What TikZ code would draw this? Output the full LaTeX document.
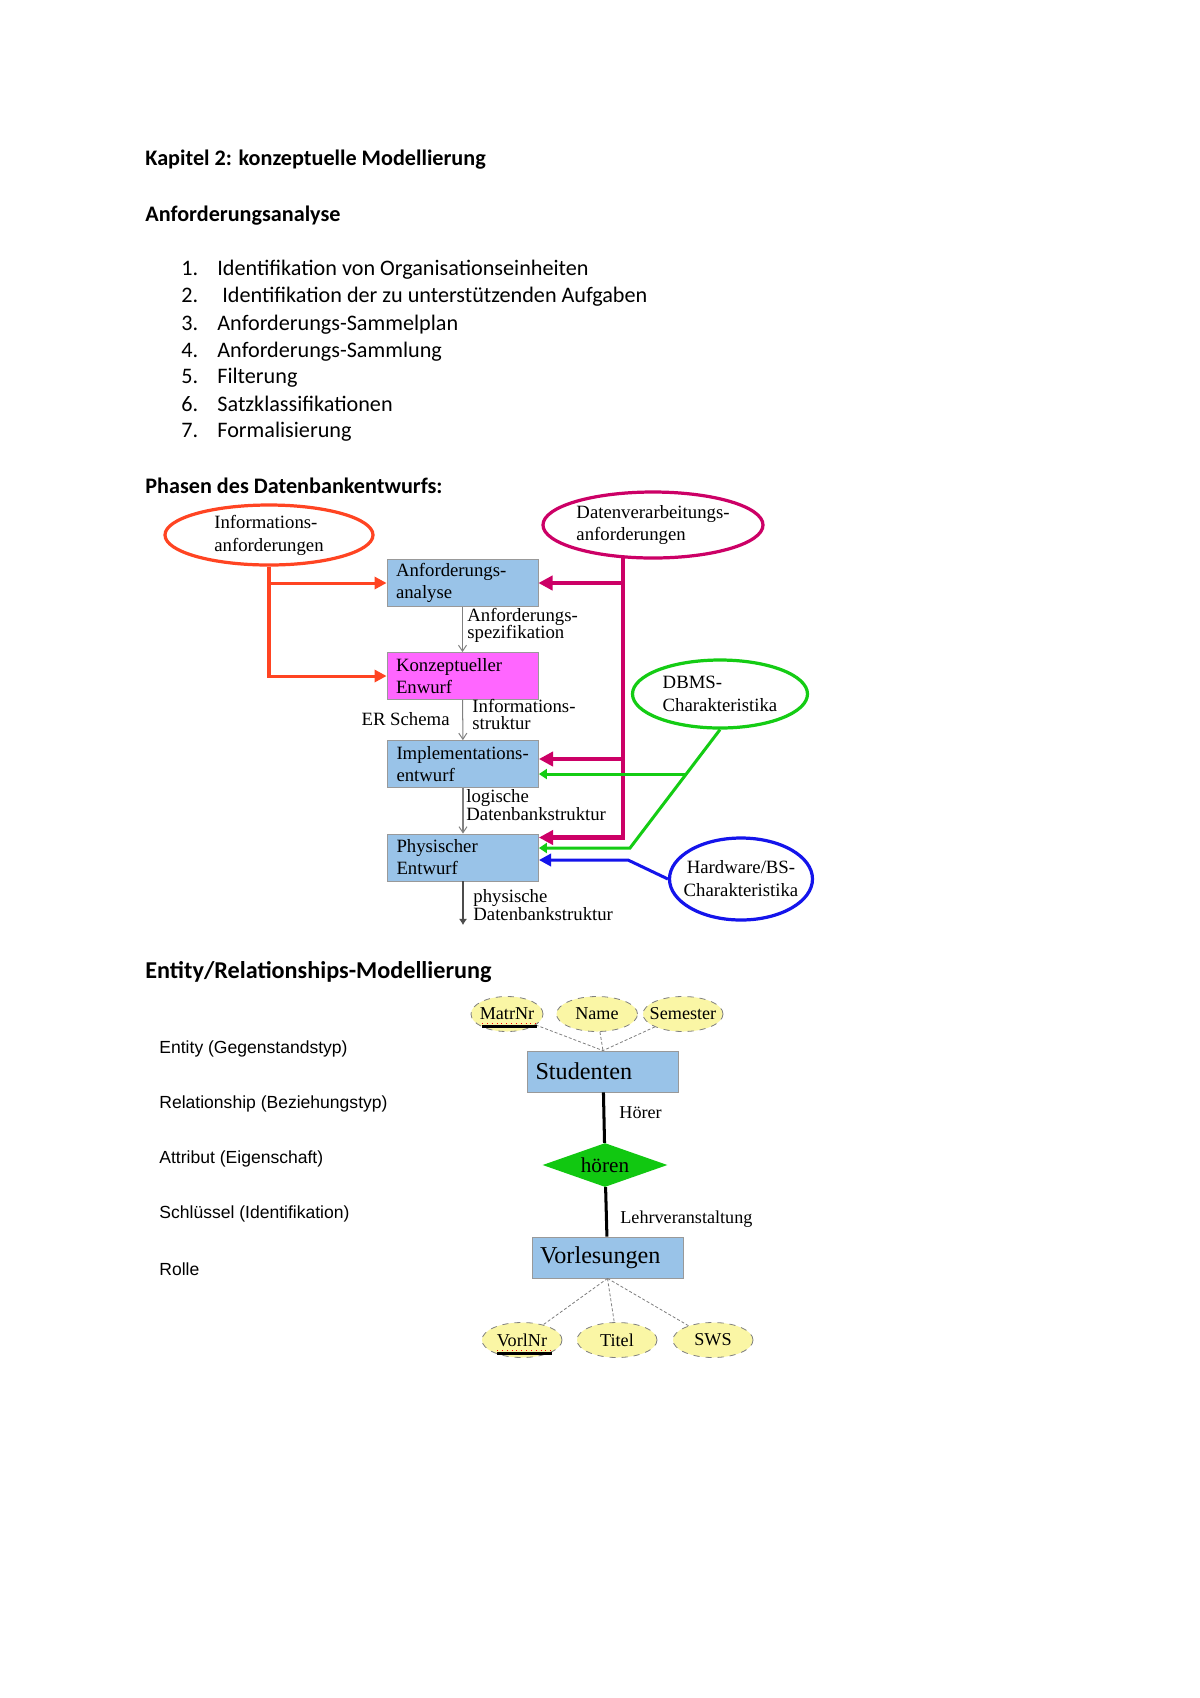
\documentclass[tikz,border=0pt]{standalone}
\usepackage{fontspec}
\setmainfont{Carlito}
\newfontfamily\tms{Liberation Serif}
\newfontfamily\arl{Liberation Sans}
\usetikzlibrary{shapes.geometric,arrows.meta,calc}
\newcommand{\pxu}{0.496pt}
\definecolor{boxblue}{RGB}{153,195,232}
\definecolor{boxpink}{RGB}{255,102,255}
\definecolor{infored}{RGB}{255,68,34}
\definecolor{datmag}{RGB}{204,0,102}
\definecolor{dbgreen}{RGB}{20,204,20}
\definecolor{hwblue}{RGB}{20,20,235}
\definecolor{relgreen}{RGB}{17,200,17}
\definecolor{attyellow}{RGB}{250,246,165}
\tikzset{
	hd/.style={anchor=base west, inner sep=0pt, font=\fontsize{11}{13}\selectfont},
	phase/.style={draw=gray!80, minimum width=151*\pxu, minimum height=47*\pxu, text width=133*\pxu, align=left, inner sep=0pt, font=\tms\fontsize{9.3}{10.9}\selectfont},
	req/.style={ellipse, line width=1.6pt, inner sep=0pt, align=left, font=\tms\fontsize{9.3}{11.4}\selectfont},
	lbl/.style={anchor=base west, inner sep=0pt, align=left, font={\tms\fontsize{9.3}{8.2}\selectfont\lineskiplimit=-20pt}},
	flow/.style={draw=gray, line width=0.5pt, -{Straight Barb[length=3pt,width=4pt]}},
	redarrow/.style={draw=infored, line width=1.5pt, -{Triangle[length=6pt,width=6pt]}},
	magline/.style={draw=datmag, line width=2pt, -{Triangle[length=7pt,width=7pt]}},
	greenline/.style={draw=dbgreen, line width=1.5pt, -{Triangle[length=4pt,width=5pt]}},
	blueline/.style={draw=hwblue, line width=1.5pt, -{Triangle[length=6pt,width=6pt]}},
	att/.style={ellipse, draw=gray, dashed, line width=0.4pt, fill=attyellow, minimum height=35*\pxu, inner xsep=-4pt, inner ysep=0pt, font=\tms\fontsize{9}{10}\selectfont},
	entity/.style={draw=gray!80, fill=boxblue, minimum width=151*\pxu, minimum height=41*\pxu, text width=135*\pxu, align=left, inner sep=0pt, font=\tms\fontsize{12}{14}\selectfont},
	rel/.style={diamond, fill=relgreen, minimum width=125*\pxu, minimum height=44*\pxu, aspect=2.8, inner sep=0pt, font=\tms\fontsize{10.5}{12}\selectfont},
	attline/.style={draw=gray, line width=0.4pt, dash pattern=on 1.5pt off 1pt},
	roleline/.style={draw=black, line width=1.5pt},
	keyline/.style={draw=black, line width=1.5pt},
	er/.style={anchor=base west, inner sep=0pt, font=\arl\fontsize{8.7}{10}\selectfont},
}
\begin{document}
\begin{tikzpicture}[x={(0.496pt,0)},y={(0,-0.496pt)}]
	\useasboundingbox[fill=white] (0,0) rectangle (1200,1698);
	% Ueberschriften und Liste
	\node[hd] (kap) at (145,165) {\bfseries Kapitel 2: konzeptuelle Modellierung};
	\node[hd] (anfana) at (145,221) {\bfseries Anforderungsanalyse};
	\node[hd] (n1) at (181,275) {1.};
	\node[hd] (l1) at (217,275) {Identifikation von Organisationseinheiten};
	\node[hd] (n2) at (181,302) {2.};
	\node[hd] (l2) at (222,302) {Identifikation der zu unterstützenden Aufgaben};
	\node[hd] (n3) at (181,330) {3.};
	\node[hd] (l3) at (217,330) {Anforderungs-Sammelplan};
	\node[hd] (n4) at (181,357) {4.};
	\node[hd] (l4) at (217,357) {Anforderungs-Sammlung};
	\node[hd] (n5) at (181,383) {5.};
	\node[hd] (l5) at (217,383) {Filterung};
	\node[hd] (n6) at (181,411) {6.};
	\node[hd] (l6) at (217,411) {Satzklassifikationen};
	\node[hd] (n7) at (181,437) {7.};
	\node[hd] (l7) at (217,437) {Formalisierung};
	\node[hd] (phasen) at (145,493) {\bfseries Phasen des Datenbankentwurfs:};

	% Phasen
	\node[phase, fill=boxblue] (anf) at (462.5,583) {Anforderungs-\\analyse};
	\node[phase, fill=boxpink] (konz) at (462.5,676) {Konzeptueller\\Enwurf};
	\node[phase, fill=boxblue] (impl) at (463,764) {Implementations-\\entwurf};
	\node[phase, fill=boxblue] (phys) at (463,857.5) {Physischer\\Entwurf};
	\coordinate (ende) at (463,925);
	\draw[flow] (anf) -- (konz);
	\draw[flow] (konz) -- (impl);
	\draw[flow] (impl) -- (phys);
	\draw[flow, draw=black!70, -{Latex[length=3pt,width=4pt]}] (phys) -- (ende);
	\node[lbl] (spez) at (467,638) {Anforderungs-\\spezifikation};
	\node[lbl, anchor=base east] (ers) at (450,725) {ER Schema};
	\node[lbl] (istr) at (472,729) {Informations-\\struktur};
	\node[lbl, font={\tms\fontsize{9.3}{8.6}\selectfont\lineskiplimit=-20pt}] (logi) at (466,820) {logische\\Datenbankstruktur};
	\node[lbl, font={\tms\fontsize{9.3}{8.9}\selectfont\lineskiplimit=-20pt}] (phdb) at (473,920) {physische\\Datenbankstruktur};

	% Anforderungen
	\node[req, draw=infored, minimum width=208*\pxu, minimum height=60*\pxu] (info) at (269,535) {Informations-\\anforderungen};
	\node[req, draw=datmag, minimum width=220*\pxu, minimum height=66*\pxu] (datv) at (653,525) {Datenverarbeitungs-\\anforderungen};
	\node[req, draw=dbgreen, minimum width=175*\pxu, minimum height=68*\pxu] (dbms) at (720,694) {DBMS-\\Charakteristika};
	\node[req, draw=hwblue, align=center, inner xsep=-4pt, minimum width=143*\pxu, minimum height=82*\pxu] (hw) at (741,879) {Hardware/BS-\\Charakteristika};

	\draw[redarrow] (info.south) |- (anf.west);
	\draw[redarrow] (info.south) |- (konz.west);

	\coordinate (mtop) at (623,557);
	\draw[magline] (mtop) |- ($(phys.east)+(0,-20)$);
	\draw[magline] (mtop |- anf.east) -- (anf.east);
	\draw[magline] ($(mtop |- impl.east)+(0,-5)$) -- ($(impl.east)+(0,-5)$);

	\coordinate (gknick) at (630,848);
	\coordinate (gmid) at ($(dbms.south)!0.375!(gknick)$);
	\draw[greenline] (dbms.south) -- (gknick) -- (gknick -| phys.east);
	\draw[greenline] (gmid) -- (gmid -| impl.east);

	\coordinate (bknick) at (628,860);
	\draw[blueline] (hw.west) -- (bknick) -- (bknick -| phys.east);

	% Entity/Relationship
	\node[hd, font=\fontsize{12}{14}\selectfont] (erhd) at (145,978) {\bfseries Entity/Relationships-Modellierung};
	\node[er] (e1) at (159,1053) {Entity (Gegenstandstyp)};
	\node[er] (e2) at (159,1108) {Relationship (Beziehungstyp)};
	\node[er] (e3) at (159,1163) {Attribut (Eigenschaft)};
	\node[er] (e4) at (159,1218) {Schlüssel (Identifikation)};
	\node[er] (e5) at (159,1275) {Rolle};

	\node[entity] (stud) at (603,1071.5) {Studenten};
	\node[rel] (hoer) at (605,1165) {hören};
	\node[entity] (vorl) at (607.5,1257.5) {Vorlesungen};
	\node[att, minimum width=72*\pxu] (matr) at (507,1014) {MatrNr};
	\node[att, minimum width=81*\pxu] (name) at (597,1014) {Name};
	\node[att, minimum width=80*\pxu] (sem) at (683,1014) {Semester};
	\node[att, minimum width=80*\pxu] (vnr) at (522,1340) {VorlNr};
	\node[att, minimum width=80*\pxu] (tit) at (617,1340) {Titel};
	\node[att, minimum width=80*\pxu] (sws) at (713,1340) {SWS};

	\draw[attline] (matr) -- (stud.north);
	\draw[attline] (name) -- (stud.north);
	\draw[attline] (sem) -- (stud.north);
	\draw[attline] (vorl.south) -- (vnr);
	\draw[attline] (vorl.south) -- (tit);
	\draw[attline] (vorl.south) -- (sws);
	\draw[roleline] (stud) -- (hoer);
	\draw[roleline] (hoer) -- (vorl);
	\node[er, font=\tms\fontsize{9}{10}\selectfont] (hrr) at (619,1118) {Hörer};
	\node[er, font=\tms\fontsize{9}{10}\selectfont] (lv) at (620,1223) {Lehrveranstaltung};

	% Schluessel
	\draw[red, line width=0.4pt, dotted] (482,1023) -- (537,1023);
	\draw[keyline] (482,1026.5) -- (537,1026.5);
	\draw[red, line width=0.4pt, dotted] (497,1350) -- (552,1350);
	\draw[keyline] (497,1353.5) -- (552,1353.5);
\end{tikzpicture}
\end{document}
